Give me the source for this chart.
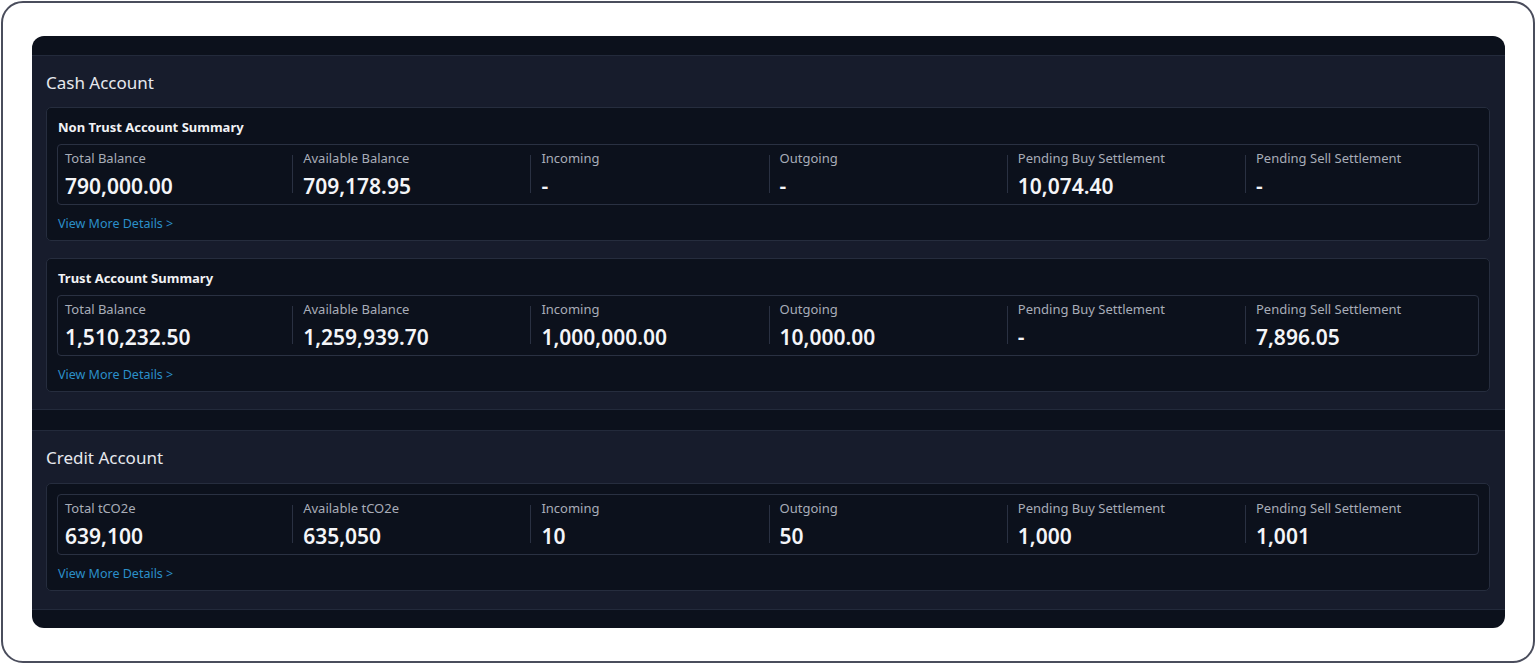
<!DOCTYPE html>
<html><head><meta charset="utf-8">
<script src="https://cdn.jsdelivr.net/npm/chart.js@4"></script>
<style>
html,body{margin:0;width:1536px;height:664px;background:#fff;font-family:"Noto Sans","Open Sans",sans-serif;overflow:hidden}
#frame{position:absolute;left:1px;top:1px;width:1534px;height:662px;border:2px solid #4a4d5c;border-radius:22px;box-sizing:border-box}
#panel{position:absolute;left:32px;top:36px;width:1473px;height:592px;background:#0c111c;border-radius:12px;overflow:hidden}
.sec{position:absolute;left:0;width:1473px;background:#171c2c;border-top:1px solid #232a3b;border-bottom:1px solid #232a3b}
.sec h2{position:absolute;left:14px;margin:0;font-weight:400;font-size:17px;color:#e6e8ee}
.card{position:absolute;left:14px;width:1444px;background:#0c111c;border:1px solid #262d3e;border-radius:5px;box-sizing:border-box}
.card h3{position:absolute;left:11px;top:10px;margin:0;font-size:13px;font-weight:700;color:#f1f2f5}
.box{position:absolute;left:10px;width:1422px;height:61px;border:1px solid #2a3142;border-radius:4px;box-sizing:border-box}
.col{position:absolute;top:0;height:59px;width:238px}
.col .sep{position:absolute;left:-4px;top:10px;height:38px;border-left:1px solid #2a3142}
.col .l{position:absolute;left:7px;top:4px;font-size:13px;color:#a8adb8}
.col .v{position:absolute;left:7px;top:27px;font-size:21px;font-weight:600;color:#f4f5f8}
.more{position:absolute;left:11px;font-size:12.5px;color:#2b8fc9}
</style></head><body>
<div id="frame"></div>
<div id="panel"></div>
<script>
const nonTrustLabels=["Total Balance","Available Balance","Incoming","Outgoing","Pending Buy Settlement","Pending Sell Settlement"];
const nonTrustValues=["790,000.00","709,178.95","-","-","10,074.40","-"];
const trustLabels=nonTrustLabels;
const trustValues=["1,510,232.50","1,259,939.70","1,000,000.00","10,000.00","-","7,896.05"];
const creditLabels=["Total tCO2e","Available tCO2e","Incoming","Outgoing","Pending Buy Settlement","Pending Sell Settlement"];
const creditValues=["639,100","635,050","10","50","1,000","1,001"];
const P=document.getElementById('panel');
function sec(top,h,title){const s=document.createElement('div');s.className='sec';s.style.top=top+'px';s.style.height=h+'px';s.innerHTML='<h2 style="top:15px">'+title+'</h2>';P.appendChild(s);return s;}
function card(s,top,h,title,labels,values){const c=document.createElement('div');c.className='card';c.style.top=top+'px';c.style.height=h+'px';
let boxTop=title?36:10;let html=title?'<h3>'+title+'</h3>':'';
html+='<div class="box" style="top:'+boxTop+'px">';
labels.forEach((l,i)=>{html+='<div class="col" style="left:'+(i*238.2)+'px">'+(i?'<div class="sep"></div>':'')+'<div class="l">'+l+'</div><div class="v">'+values[i]+'</div></div>';});
html+='</div><div class="more" style="top:'+(boxTop+71)+'px">View More Details &gt;</div>';
c.innerHTML=html;s.appendChild(c);}
const s1=sec(19,353,'Cash Account');
card(s1,51,134,'Non Trust Account Summary',nonTrustLabels,nonTrustValues);
card(s1,202,134,'Trust Account Summary',trustLabels,trustValues);
const s2=sec(394,178,'Credit Account');
card(s2,52,108,'',creditLabels,creditValues);
</script>
</body></html>
